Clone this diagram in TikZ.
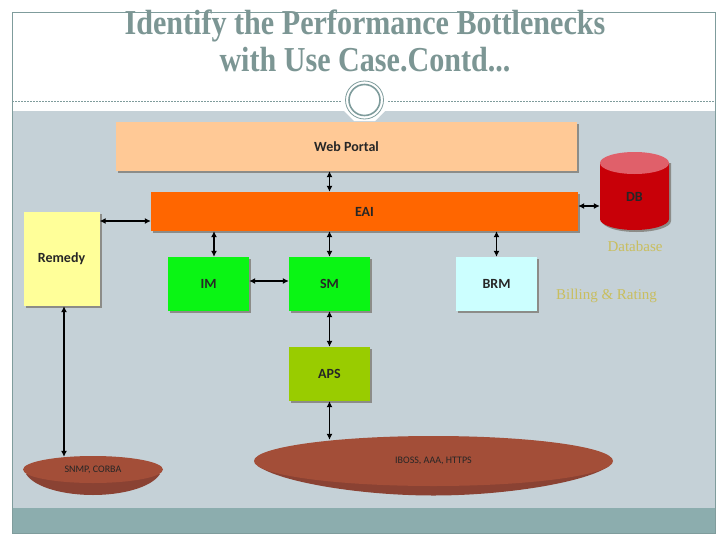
\documentclass[tikz,border=0pt]{standalone}
\usepackage{fontspec}
\setmainfont{Carlito}
\newfontfamily\serifface{Liberation Serif}
\newfontfamily\titleface[FakeStretch=0.86]{Liberation Serif Bold}
\usetikzlibrary{shapes.geometric,shadows,arrows.meta}
\definecolor{framec}{HTML}{7F9C9C}
\definecolor{panelc}{HTML}{C5D1D7}
\definecolor{footc}{HTML}{8CADAE}
\definecolor{titlec}{HTML}{7C9694}
\definecolor{goldc}{HTML}{C9BE5E}
\definecolor{shadowc}{HTML}{8C8C88}
\definecolor{discc}{HTML}{A34E38}
\definecolor{discdark}{HTML}{8A4233}
\definecolor{cylbody}{HTML}{C80008}
\definecolor{cyltop}{HTML}{E0606A}
\tikzset{
  boxnode/.style={rectangle,inner sep=0pt,text=black!85,
    font=\fontsize{14}{16}\selectfont\bfseries,
    drop shadow={shadow xshift=2pt,shadow yshift=-2pt,fill=shadowc,opacity=1}},
  disc/.style={ellipse,inner sep=0pt,fill=discc,text=black!85,font=\fontsize{10}{12}\selectfont},
  link/.style={line width=1.1pt,black,{Latex[length=6pt,width=6pt]}-{Latex[length=6pt,width=6pt]}},
  titletext/.style={font=\titleface\fontsize{35}{38}\selectfont,text=titlec},
  goldtext/.style={font=\serifface\fontsize{15}{17}\selectfont,text=goldc},
  ring/.style={draw=framec}
}
\begin{document}
\begin{tikzpicture}[x=1pt,y=-1pt]
\useasboundingbox (0,0) rectangle (728,546);
\fill[white] (0,0) rectangle (728,546);
% panels
\fill[panelc] (12,111) rectangle (715,508);
\fill[footc] (12,508) rectangle (715,533);
\fill[white] (344,111) -- (354,121) -- (375,121) -- (385,111) -- cycle;
\draw[framec,line width=0.8pt] (12,12) rectangle (715,533);
\draw[framec,dash pattern=on 2pt off 1pt,line width=0.6pt] (12,101) -- (341,101);
\draw[framec,dash pattern=on 2pt off 1pt,line width=0.6pt] (388,101) -- (715,101);
\draw[ring,line width=0.8pt] (364.5,100) circle[radius=19];
\draw[ring,line width=1.6pt] (364.5,100) circle[radius=15.5];
% title
\node[titletext] (t1) at (365,26) {Identify the Performance Bottlenecks};
\node[titletext] (t2) at (365,60) {with Use Case.Contd...};
% boxes
\node[boxnode,fill={rgb,255:red,255;green,201;blue,150},minimum width=461pt,minimum height=49pt] (web) at (346.5,146.5) {Web Portal};
\node[boxnode,fill={rgb,255:red,255;green,102;blue,0},minimum width=427pt,minimum height=39pt] (eai) at (364.5,211.5) {EAI};
\node[boxnode,fill={rgb,255:red,255;green,255;blue,153},minimum width=76pt,minimum height=94pt] (remedy) at (61.5,259) {Remedy};
\node[boxnode,fill={rgb,255:red,10;green,245;blue,20},minimum width=81pt,minimum height=54pt] (im) at (208.5,284) {IM};
\node[boxnode,fill={rgb,255:red,10;green,245;blue,20},minimum width=81pt,minimum height=54pt] (sm) at (329.5,284) {SM};
\node[boxnode,fill={rgb,255:red,204;green,255;blue,255},minimum width=81pt,minimum height=54pt] (brm) at (496.5,284) {BRM};
\node[boxnode,fill={rgb,255:red,153;green,204;blue,0},minimum width=81pt,minimum height=54pt] (aps) at (329.5,374) {APS};
% database cylinder
\fill[shadowc] (602,163) -- (671,163) -- (671,221) arc[start angle=0,end angle=180,x radius=34.5,y radius=11] -- cycle;
\fill[cylbody] (600,163) -- (669,163) -- (669,219) arc[start angle=0,end angle=180,x radius=34.5,y radius=11] -- cycle;
\fill[cyltop] (634.5,163) ellipse[x radius=34.5,y radius=11];
\node[rectangle,inner sep=0pt,minimum width=69pt,minimum height=78pt,text=black!85,font=\fontsize{14}{16}\selectfont\bfseries] (db) at (634.5,191) {\raisebox{-10.5pt}[0pt][0pt]{DB}};
% discs
\fill[discdark] (258,466) .. controls (280,482) and (360,495.5) .. (433.5,495.5) .. controls (507,495.5) and (587,482) .. (609,466) -- cycle;
\node[disc,minimum width=359pt,minimum height=50pt] (iboss) at (433.5,461) {IBOSS, AAA, HTTPS};
\fill[discdark] (26,474) .. controls (35,488) and (65,495) .. (93,495) .. controls (121,495) and (151,488) .. (160,474) -- cycle;
\node[disc,minimum width=140pt,minimum height=27pt] (snmp) at (93,469.5) {SNMP, CORBA};
% labels
\node[goldtext] (dbl) at (635,246) {Database};
\node[goldtext] (bill) at (606.5,296) {Billing \& Rating};
% connectors
\draw[link] (web.south -| sm.north) -- (eai.north -| sm.north);
\draw[link] ([xshift=5.5pt]im.north) -- ([xshift=5.5pt]im.north |- eai.south);
\draw[link] (eai.south -| sm.north) -- (sm.north);
\draw[link] (eai.south -| brm.north) -- (brm.north);
\draw[link] ([yshift=3pt]im.east) -- ([yshift=3pt]sm.west);
\draw[link] (sm.south) -- (aps.north);
\draw[link] (aps.south) -- ([yshift=-4pt]aps.south |- iboss.north);
\draw[link] ([yshift=38pt]remedy.east) -- ([yshift=38pt]remedy.east -| eai.west);
\draw[link] ([yshift=-15pt]db.west) -- ([yshift=-15pt]db.west -| eai.east);
\draw[link] ([xshift=2.5pt]remedy.south) -- ([xshift=2.5pt,yshift=-1pt]remedy.south |- snmp.north);
\end{tikzpicture}
\end{document}
